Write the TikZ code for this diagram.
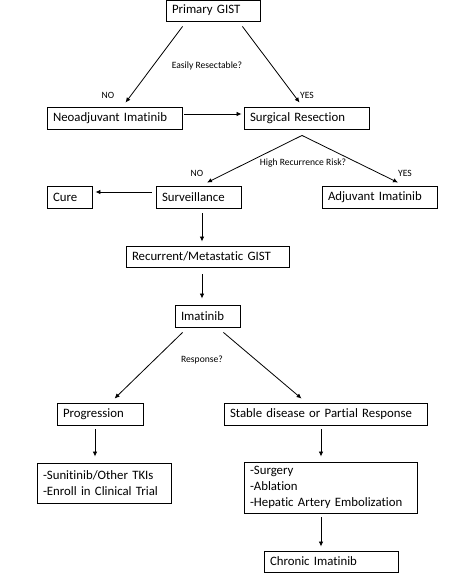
\documentclass[tikz,border=0pt]{standalone}
\usepackage{fontspec}
\setmainfont{Carlito}[RawFeature={-liga}]
\usetikzlibrary{arrows.meta,calc}
\tikzset{
  box/.style={draw, line width=0.9pt, rectangle, inner xsep=6pt, inner ysep=0pt, align=left, anchor=center, font=\fontsize{12.8}{16}\selectfont},
  lbl/.style={font=\fontsize{9.6}{11}\selectfont, inner sep=0pt},
  arr/.style={line width=0.8pt, -{Latex[length=5pt,width=4.5pt]}},
  ln/.style={line width=0.8pt}
}
\begin{document}
\begin{tikzpicture}[x=1pt,y=-1pt]
\fill[white] (0,0) rectangle (474,586);
\useasboundingbox (0,0) rectangle (474,586);
% boxes
\node[box, text width=82pt, minimum height=21pt] (prim) at (213,10.5) {Primary GIST};
\node[box, text width=123pt, minimum height=22pt] (neo) at (114.5,118) {Neoadjuvant Imatinib};
\node[box, text width=113pt, minimum height=22pt] (surg) at (306.5,118) {Surgical Resection};
\node[box, text width=33pt, minimum height=22pt] (cure) at (69.5,197) {Cure};
\node[box, text width=73pt, minimum height=22pt] (surv) at (198.5,197) {Surveillance};
\node[box, text width=103pt, minimum height=22pt] (adj) at (379.5,197) {Adjuvant Imatinib};
\node[box, text width=151pt, minimum height=21pt] (recur) at (207.5,256.5) {Recurrent/Metastatic GIST};
\node[box, text width=53pt, minimum height=22pt] (imat) at (207.5,316) {Imatinib};
\node[box, text width=74pt, minimum height=22pt] (prog) at (100,414) {Progression};
\node[box, text width=191pt, minimum height=22pt] (stab) at (325.5,414) {Stable disease or Partial Response};
\node[box, text width=122pt, minimum height=40pt] (sun) at (104,483) {-Sunitinib/Other TKIs\\-Enroll in Clinical Trial};
\node[box, text width=161pt, minimum height=51pt] (opts) at (330.5,487.5) {-Surgery\\-Ablation\\-Hepatic Artery Embolization};
\node[box, text width=122pt, minimum height=21pt] (chron) at (331,561.5) {Chronic Imatinib};
% labels
\node[lbl] (q1) at (207,66) {Easily Resectable?};
\node[lbl] (no1) at (108,95) {NO};
\node[lbl] (yes1) at (307,95) {YES};
\node[lbl] (q2) at (303,163) {High Recurrence Risk?};
\node[lbl] (no2) at (197,173) {NO};
\node[lbl] (yes2) at (405,173) {YES};
\node[lbl] (q3) at (202,360) {Response?};
% connectors
\draw[arr] ($(prim.south west)+(17,5)$) -- ($(neo.north west)+(79,-4)$);
\draw[arr] ($(prim.south east)+(-18,5)$) -- ($(surg.north west)+(56,-4)$);
\draw[arr] ($(neo.east)+(2,-4)$) -- ($(surg.west)+(-2,-4)$);
\coordinate (apex) at ($(surg.south)+(-4.5,6)$);
\draw[arr] (apex) -- ($(surv.north)+(8.5,-3)$);
\draw[arr] (apex) -- ($(adj.north)+(18.5,-3)$);
\draw[arr] ($(surv.west)+(-4,-5)$) -- ($(cure.east)+(3,-5)$);
\draw[arr] ($(surv.south)+(3.5,5)$) -- ($(recur.north)+(-5.5,-4)$);
\draw[arr] ($(recur.south)+(-5.5,7)$) -- ($(imat.north)+(-5.5,-6)$);
\draw[arr] ($(imat.south west)+(8,5)$) -- ($(prog.north west)+(58,-4)$);
\draw[arr] ($(imat.south east)+(-17,5)$) -- ($(stab.north west)+(78,-4)$);
\draw[arr] ($(prog.south)+(-5,4)$) -- ($(sun.north)+(-9,-6)$);
\draw[arr] ($(stab.south)+(-4.5,4)$) -- ($(opts.north)+(-9.5,-5)$);
\draw[arr] ($(opts.south)+(-9.5,4)$) -- ($(chron.north)+(-10,-4)$);
\end{tikzpicture}
\end{document}
